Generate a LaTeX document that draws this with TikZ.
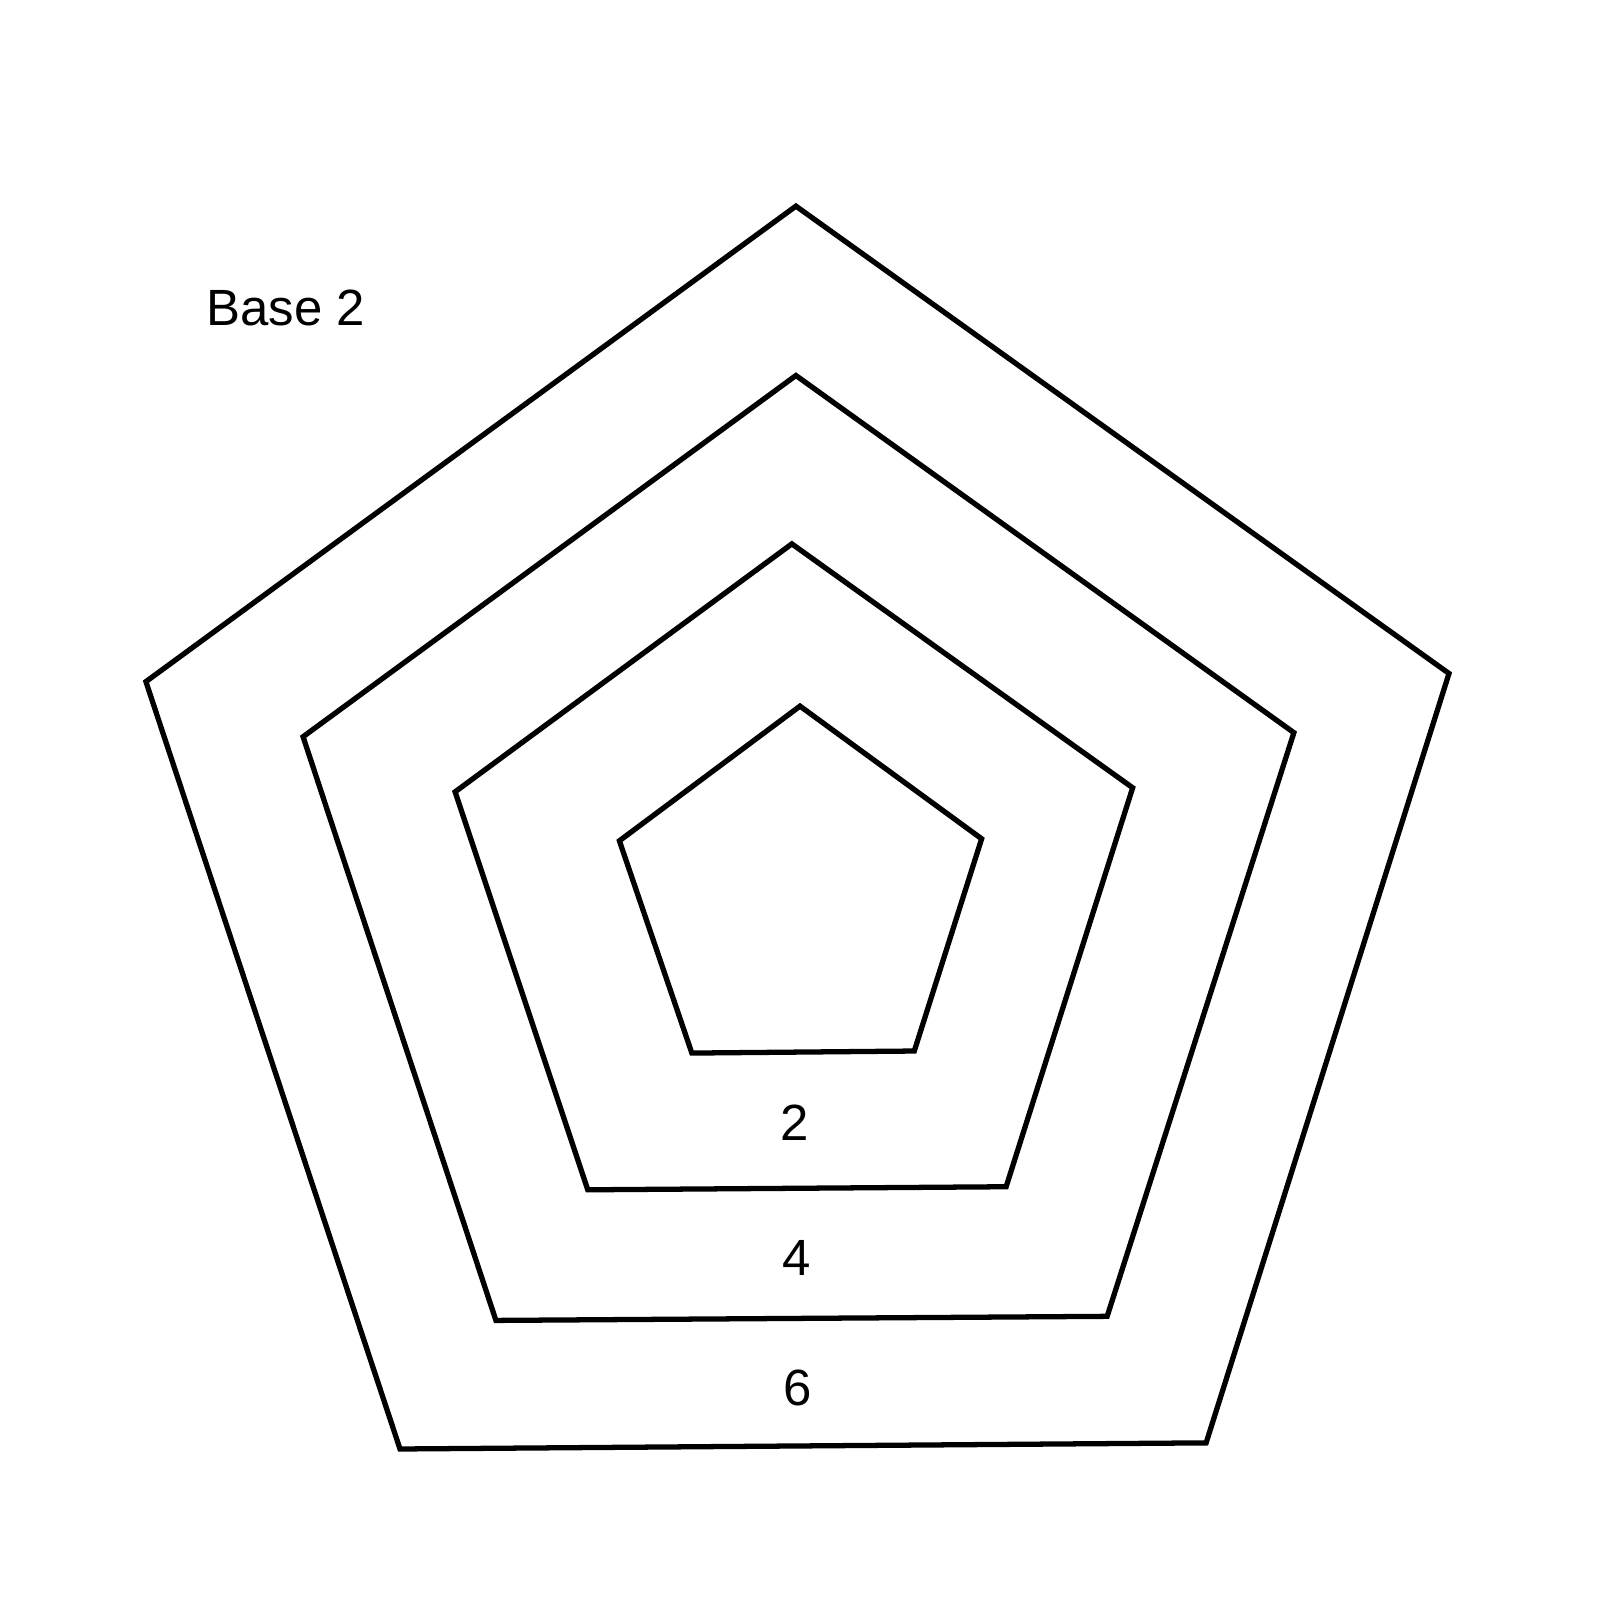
\documentclass[tikz,border=0pt]{standalone}
\usepackage{fontspec}
\setmainfont{Liberation Sans}
\usetikzlibrary{positioning}

\begin{document}
\begin{tikzpicture}[x=0.010204cm, y=-0.010204cm]
            \tikzstyle{pent} = [line width=1.5pt, line join=miter]
            \tikzstyle{lab}  = [font=\fontsize{14.5}{17}\selectfont, inner sep=0pt]

            \useasboundingbox (0,0) rectangle (1568,1568);

            % Draw the nested pentagons, outermost first.
            \foreach \xa/\ya/\xb/\yb/\xc/\yc/\xd/\yd/\xe/\ye in {
                     780/202/1420/660/1182/1414/392/1420/143/668,
                     780/368/1268/718/1085/1290/486/1294/297/722,
                     776/533/1110/772/986/1163/576/1166/446/776,
                     784/692/962/822/896/1030/678/1032/607/824
            } {
                \draw[pent] (\xa,\ya) -- (\xb,\yb) -- (\xc,\yc) -- (\xd,\yd) -- (\xe,\ye) -- cycle;
            }

            % Labels
            \node[lab] (base) at (280,302) {Base 2};
            \node[lab] (ring2) at (779,1100) {2};
            \node[lab] (ring4) at (781,1233) {4};
            \node[lab] (ring6) at (782,1360) {6};

        \end{tikzpicture}
\end{document}
